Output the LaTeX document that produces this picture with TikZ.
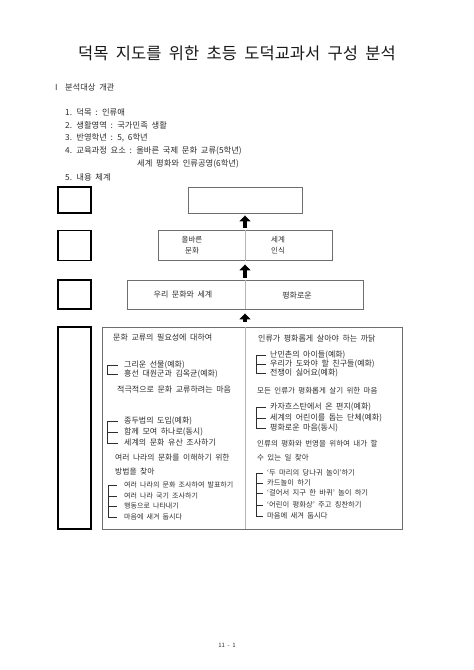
\documentclass[tikz,border=0pt]{standalone}
\usepackage{fontspec}
\setmainfont{Noto Sans CJK KR}[WordSpace=2]
\usepackage{tikz}
\usetikzlibrary{arrows.meta}
\definecolor{txtc}{HTML}{2E2E2E}
\definecolor{boxc}{HTML}{6E6E6E}
\definecolor{divc}{HTML}{B4B4B4}

\begin{document}
\begin{tikzpicture}[x=1pt, y=-1pt,
  sqbox/.style={draw=black, line width=1.3pt, minimum width=33pt, inner sep=0pt},
  lvlbox/.style={draw=boxc, line width=0.9pt, inner sep=0pt},
  divl/.style={draw=divc, line width=0.5pt},
  uparrow/.style={-{Triangle[width=11pt,length=6pt]}, line width=4pt, draw=black},
  ttl/.style={font=\fontsize{16.5}{18}\selectfont, text=black!90},
  info/.style={anchor=west, inner sep=0pt, font=\fontsize{8.3}{9}\selectfont, text=txtc},
  txt/.style={anchor=west, inner sep=0pt, font=\fontsize{8}{9}\selectfont, text=txtc},
  sml/.style={anchor=west, inner sep=0pt, font=\fontsize{7}{9}\selectfont, text=txtc},
  hd/.style={anchor=west, inner sep=0pt, align=left, font=\fontsize{7.5}{14}\selectfont, text=txtc},
  brk/.style={draw=txtc, line width=0.5pt}]
\fill[white] (0,0) rectangle (474,670);
% title and outline
\node[ttl] (title) at (237,53) {덕목 지도를 위한 초등 도덕교과서 구성 분석};
\node[info] (sec)  at (55,87)  {I \ 분석대상 개관};
\node[info] (it1)  at (65,112) {1. 덕목 : 인류애};
\node[info] (it2)  at (65,125) {2. 생활영역 : 국가민족 생활};
\node[info] (it3)  at (65,138) {3. 반영학년 : 5, 6학년};
\node[info] (it4)  at (65,151) {4. 교육과정 요소 : 올바른 국제 문화 교류(5학년)};
\node[info] (it4b) at (137,164) {세계 평화와 인류공영(6학년)};
\node[info] (it5)  at (65,177) {5. 내용 체계};
% left squares
\node[sqbox, minimum height=26pt]  (l1) at (74.5,200)   {};
\node[sqbox, minimum height=30pt]  (l2) at (74.5,245.5) {};
\node[sqbox, minimum height=29pt]  (l3) at (74.5,294.5) {};
\node[sqbox, minimum height=202pt] (l4) at (74.5,428)   {};
% hierarchy boxes
\node[lvlbox, minimum width=114pt, minimum height=26pt] (b1) at (245,200)   {};
\node[lvlbox, minimum width=174pt, minimum height=30pt] (b2) at (245,245.5) {};
\node[lvlbox, minimum width=236pt, minimum height=29pt] (b3) at (245,294.5) {};
\node[lvlbox, minimum width=300pt, minimum height=202pt] (big) at (252,428) {};
\coordinate (bigtop) at (b3.south |- big.north);
\coordinate (bigbot) at (b3.south |- big.south);
\draw[divl] (b2.north) -- (b2.south);
\draw[divl] (b3.north) -- (b3.south);
\draw[divl] (bigtop) -- (bigbot);
\node[txt, anchor=center, align=center, font=\fontsize{7.5}{11}\selectfont] (b2l) at (192,245.5) {올바른\\문화};
\node[txt, anchor=center, align=center, font=\fontsize{7.5}{11}\selectfont] (b2r) at (278,245.5) {세계\\인식};
\node[txt, anchor=center] (b3l) at (183,295) {우리 문화와 세계};
\node[txt, anchor=center] (b3r) at (297,295) {평화로운};
\draw[uparrow, shorten <=2.5pt, shorten >=2pt] (b2.north) -- (b1.south);
\draw[uparrow, shorten <=2pt, shorten >=3.5pt] (b3.north) -- (b2.south);
\draw[uparrow, shorten <=5pt, shorten >=4pt] (bigtop) -- (b3.south);
% left column
\node[txt] (h1) at (113,338) {문화 교류의 필요성에 대하여};
\node[txt] (a1) at (124,365) {그리운 선물(예화)};
\node[txt] (a2) at (124,374) {흥선 대원군과 김옥균(예화)};
\node[txt] (h2) at (117,390) {적극적으로 문화 교류하려는 마음};
\node[txt] (c1) at (124,421) {종두법의 도입(예화)};
\node[txt] (c2) at (124,432) {함께 모여 하나로(동시)};
\node[txt] (c3) at (124,443) {세계의 문화 유산 조사하기};
\node[hd, font=\fontsize{7.8}{14}\selectfont] (h3) at (115,465) {여러 나라의 문화를 이해하기 위한\\방법을 찾아};
\node[sml] (e1) at (124,485) {여러 나라의 문화 조사하여 발표하기};
\node[sml] (e2) at (124,496) {여러 나라 국기 조사하기};
\node[sml] (e3) at (124,506) {행동으로 나타내기};
\node[sml] (e4) at (124,517) {마음에 새겨 둡시다};
% right column
\node[txt] (h4) at (258,338) {인류가 평화롭게 살아야 하는 까닭};
\node[txt] (d1) at (270,355) {난민촌의 아이들(예화)};
\node[txt] (d2) at (270,364) {우리가 도와야 할 친구들(예화)};
\node[txt] (d3) at (270,373) {전쟁이 싫어요(예화)};
\node[hd]  (h5) at (257,391) {모든 인류가 평화롭게 살기 위한 마음};
\node[txt] (f1) at (270,407) {카자흐스탄에서 온 편지(예화)};
\node[txt] (f2) at (270,418) {세계의 어린이를 돕는 단체(예화)};
\node[txt] (f3) at (270,428) {평화로운 마음(동시)};
\node[hd]  (h6) at (257,451) {인류의 평화와 번영을 위하여 내가 할\\수 있는 일 찾아};
\node[sml, font=\fontsize{7.3}{9}\selectfont] (g1) at (267,473) {‘두 마리의 당나귀 놀이’하기};
\node[sml, font=\fontsize{7.3}{9}\selectfont] (g2) at (267,483) {카드놀이 하기};
\node[sml, font=\fontsize{7.3}{9}\selectfont] (g3) at (267,493) {‘걸어서 지구 한 바퀴’ 놀이 하기};
\node[sml, font=\fontsize{7.3}{9}\selectfont] (g4) at (267,505) {‘어린이 평화상’ 주고 칭찬하기};
\node[sml, font=\fontsize{7.3}{9}\selectfont] (g5) at (267,516) {마음에 새겨 둡시다};
% brackets
\draw[brk] ([xshift=-17pt]a1.west) -- ([xshift=-17pt]a2.west);
\foreach \n in {a1,a2,c1,c2,c3}
  \draw[brk] ([xshift=-17pt]\n.west) -- ([xshift=-6pt]\n.west);
\draw[brk] ([xshift=-17pt]c1.west) -- ([xshift=-17pt]c3.west);
\draw[brk] ([xshift=-16pt]e1.west) -- ([xshift=-16pt]e4.west);
\foreach \n in {e1,e2,e3,e4}
  \draw[brk] ([xshift=-16pt]\n.west) -- ([xshift=-7pt]\n.west);
\draw[brk] ([xshift=-14pt]d1.west) -- ([xshift=-14pt]d3.west);
\draw[brk] ([xshift=-14pt]f1.west) -- ([xshift=-14pt]f3.west);
\foreach \n in {d1,d2,d3,f1,f2,f3}
  \draw[brk] ([xshift=-14pt]\n.west) -- ([xshift=-4pt]\n.west);
\draw[brk] ([xshift=-11pt]g1.west) -- ([xshift=-11pt]g5.west);
\foreach \n in {g1,g2,g3,g4,g5}
  \draw[brk] ([xshift=-11pt]\n.west) -- ([xshift=-4pt]\n.west);
% page number
\node[info, anchor=center, font=\fontsize{6}{7}\selectfont] (pg) at (227,645) {11 - 1};
\end{tikzpicture}
\end{document}
